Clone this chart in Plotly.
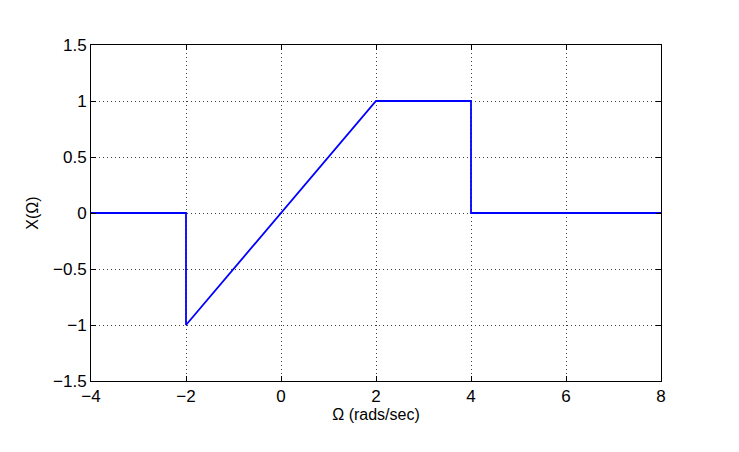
import plotly.graph_objects as go

omega = [-4, -2, -2, 2, 4, 4, 8]
x_vals = [0, 0, -1, 1, 1, 0, 0]
x_ticks = [-4, -2, 0, 2, 4, 6, 8]
y_ticks = [-1.5, -1, -0.5, 0, 0.5, 1, 1.5]
y_labels = ["\u22121.5", "\u22121", "\u22120.5", "0", "0.5", "1", "1.5"]
x_labels = ["\u22124", "\u22122", "0", "2", "4", "6", "8"]

fig = go.Figure()
fig.add_trace(go.Scatter(x=omega, y=x_vals, mode="lines",
                         line=dict(color="#0000ff", width=1.8), showlegend=False))

axis_common = dict(
    showline=True, linecolor="black", linewidth=1, mirror="ticks",
    ticks="inside", ticklen=5, tickcolor="black",
    showgrid=True, gridcolor="rgba(0,0,0,0.75)", griddash="1px,3px", gridwidth=1,
    zeroline=False, tickfont=dict(size=17, color="black"),
)

fig.update_xaxes(range=[-4, 8], tickvals=x_ticks, ticktext=x_labels,
                 title=dict(text="\u03a9 (rads/sec)", font=dict(size=16, color="black"), standoff=0),
                 **axis_common)
fig.update_yaxes(range=[-1.5, 1.5], tickvals=y_ticks, ticktext=y_labels,
                 title=dict(text="X(\u03a9)", font=dict(size=16, color="black"), standoff=10),
                 **axis_common)

fig.update_layout(
    width=739, height=452,
    margin=dict(l=83, r=86, t=37, b=79),
    paper_bgcolor="white", plot_bgcolor="white",
    font=dict(family="Liberation Sans, Arial, sans-serif", color="black"),
)

fig.write_html("out.html")
